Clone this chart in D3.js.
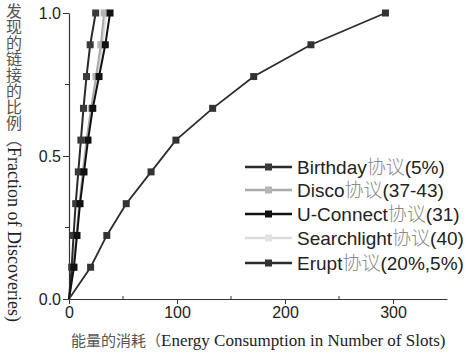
<!DOCTYPE html>
<html><head><meta charset="utf-8">
<script src="https://cdn.jsdelivr.net/npm/d3@7"></script>
<style>body{margin:0;background:#fff}svg{display:block}</style>
</head><body>
<svg id="c" width="474" height="355"></svg>
<script>
const yLevels = [0, 1/9, 2/9, 3/9, 4/9, 5/9, 6/9, 7/9, 8/9, 1];
const birthdayX   = [0, 2.5, 4.2, 6.2, 8.6, 11.0, 13.4, 16.2, 19.6, 24.7];
const discoX      = [0, 4.0, 6.8, 9.6, 12.8, 16.2, 20.5, 25.0, 29.5, 32.5];
const uconnectX   = [0, 4.6, 7.4, 10.2, 13.9, 17.6, 22.0, 27.8, 33.6, 38.0];
const searchX     = [0, 4.3, 7.1, 10.0, 13.4, 17.0, 21.3, 26.2, 31.0, 34.5];
const eruptX      = [0, 20, 35, 53, 76, 99, 133, 171, 224, 293];
const seriesNames = ["Birthday", "Disco", "U-Connect", "Searchlight", "Erupt"];
const seriesParams = ["(5%)", "(37-43)", "(31)", "(40)", "(20%,5%)"];
const xTicks = [0, 100, 200, 300];
const xMinor = [50, 150, 250];
const yTicks = [0, 0.5, 1.0];
const yMinor = [0.25, 0.75];

const styles = [
  {line:"#2a2a2a", mark:"#3a3a3a"},
  {line:"#aaaaaa", mark:"#b4b4b4"},
  {line:"#111111", mark:"#111111"},
  {line:"#dcdcdc", mark:"#e2e2e2"},
  {line:"#2c2c2c", mark:"#333333"}
];
const allX = [birthdayX, discoX, uconnectX, searchX, eruptX];

const svg = d3.select("#c");
const x = d3.scaleLinear().domain([0, 350]).range([69, 447]);
const y = d3.scaleLinear().domain([0, 1]).range([299, 13]);
const sans = "'Liberation Sans', Arial, sans-serif";
const serif = "'Liberation Serif', 'Times New Roman', serif";
const cjk = "'Noto Sans CJK SC', sans-serif";

// axes
const gx = svg.append("g").attr("transform", `translate(0,${y(0)})`)
  .call(d3.axisBottom(x).tickValues(xTicks).tickSize(5).tickSizeOuter(0).tickPadding(3).tickFormat(d3.format("d")));
gx.select(".domain").attr("stroke", "#333").attr("stroke-width", 1.2);
gx.selectAll(".tick line").attr("stroke", "#333");
gx.selectAll(".tick text").attr("font-family", sans).attr("font-size", 16).attr("fill", "#222");
gx.selectAll(".minor").data(xMinor).enter().append("line")
  .attr("x1", d => x(d)).attr("x2", d => x(d)).attr("y1", 0).attr("y2", -3).attr("stroke", "#333");

const gy = svg.append("g").attr("transform", `translate(${x(0)},0)`)
  .call(d3.axisLeft(y).tickValues(yTicks).tickSize(6).tickSizeOuter(0).tickPadding(2).tickFormat(d3.format(".1f")));
gy.select(".domain").attr("stroke", "#333").attr("stroke-width", 1.2);
gy.selectAll(".tick line").attr("stroke", "#333");
gy.selectAll(".tick text").attr("font-family", sans).attr("font-size", 16).attr("fill", "#222");
gy.selectAll(".minor").data(yMinor).enter().append("line")
  .attr("y1", d => y(d)).attr("y2", d => y(d)).attr("x1", 0).attr("x2", -4).attr("stroke", "#333");

// series (draw order: Erupt first, then light to dark)
const order = [4, 3, 1, 0, 2];
const line = d3.line().x(d => x(d[0])).y(d => y(d[1]));
order.forEach(i => {
  const pts = allX[i].map((v, k) => [v, yLevels[k]]);
  const g = svg.append("g");
  g.append("path").datum(pts).attr("d", line).attr("fill", "none")
    .attr("stroke", styles[i].line).attr("stroke-width", i === 4 ? 1.8 : 2);
  const s = 7;
  g.selectAll("rect").data(pts.slice(1)).enter().append("rect")
    .attr("x", d => x(d[0]) - s/2).attr("y", d => y(d[1]) - s/2)
    .attr("width", s).attr("height", s).attr("fill", styles[i].mark);
});

// legend
const legY = [167, 190, 214, 238, 263];
seriesNames.forEach((n, i) => {
  const g = svg.append("g").attr("transform", `translate(0,${legY[i]})`);
  g.append("line").attr("x1", 245).attr("x2", 292).attr("y1", 0).attr("y2", 0)
    .attr("stroke", styles[i].line).attr("stroke-width", 2.5);
  g.append("rect").attr("x", 265).attr("y", -3.5).attr("width", 7).attr("height", 7).attr("fill", styles[i].mark);
  const t = g.append("text").attr("x", 297).attr("y", 7).attr("font-size", 19).attr("fill", "#222");
  t.append("tspan").attr("font-family", sans).text(n);
  t.append("tspan").attr("font-family", cjk).attr("fill", "#888").attr("font-weight", 300).text("协议");
  t.append("tspan").attr("font-family", sans).text(seriesParams[i]);
});

// x title
const xt = svg.append("text").attr("x", 71).attr("y", 346).attr("font-size", 15).attr("fill", "#555");
xt.append("tspan").attr("font-family", cjk).text("能量的消耗（");
xt.append("tspan").attr("font-family", serif).attr("font-size", 17).attr("fill", "#222").text("Energy Consumption in Number of Slots)");

// y title (vertical)
const yt = svg.append("text").attr("x", 14).attr("y", 3)
  .style("writing-mode", "vertical-rl").attr("font-size", 16).attr("fill", "#555");
yt.append("tspan").attr("font-family", cjk).text("发现的链接的比例（");
yt.append("tspan").attr("font-family", serif).attr("font-size", 18).attr("fill", "#222").text("Fraction of Discoveries)");
</script>
</body></html>
